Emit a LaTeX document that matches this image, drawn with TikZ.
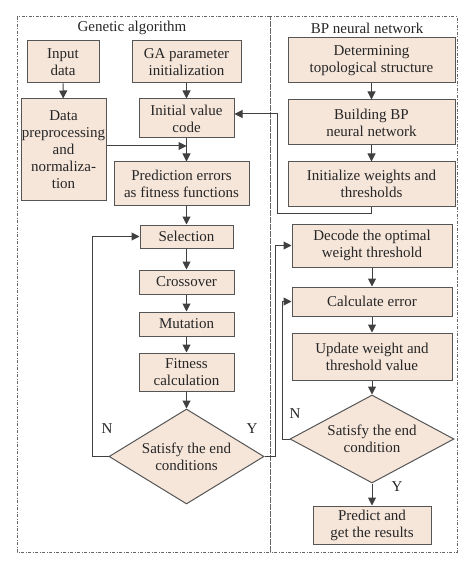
\documentclass[tikz,border=0pt]{standalone}
\usepackage{fontspec}
\setmainfont{Liberation Serif}
\usetikzlibrary{shapes.geometric,arrows.meta}
\definecolor{boxfill}{HTML}{F6E6DA}
\definecolor{boxline}{HTML}{555555}
\definecolor{framec}{HTML}{666666}
\begin{document}
\begin{tikzpicture}[x=1pt,y=-1pt,
  every node/.style={font=\fontsize{15}{17}\selectfont, text=black!85},
  box/.style={draw=boxline, fill=boxfill, line width=1pt, rectangle, align=center, inner sep=0pt},
  dia/.style={draw=boxline, fill=boxfill, line width=1pt, diamond, align=center, inner sep=0pt, aspect=1.6},
  arr/.style={draw=black!75, line width=1pt, -{Triangle[length=8pt,width=8pt]}},
  frame/.style={draw=framec, line width=1pt, dash pattern=on 3pt off 1.5pt on 1pt off 1.5pt},
  lbl/.style={font=\fontsize{15}{17}\selectfont}
]
\useasboundingbox (0,0) rectangle (474,569);
% frames
\draw[frame] (17,17) rectangle (270,552);
\draw[frame] (270,17) rectangle (457,552);
\node[lbl] (t1) at (132,28) {Genetic algorithm};
\node[lbl] (t2) at (367,28) {BP neural network};

% left column
\node[box, minimum width=72, minimum height=42] (inp) at (63,62) {Input\\data};
\node[box, minimum width=109, minimum height=42] (gap) at (186.5,62) {GA parameter\\initialization};
\node[box, minimum width=85, minimum height=101] (pre) at (63.5,149.5) {Data\\preprocessing\\and\\normaliza-\\tion};
\node[box, minimum width=95, minimum height=39] (ivc) at (186.5,118.5) {Initial value\\code};
\node[box, minimum width=135, minimum height=43] (pred) at (181.5,183.5) {Prediction errors\\as fitness functions};
\node[box, minimum width=93, minimum height=23] (sel) at (186.5,236.5) {Selection};
\node[box, minimum width=95, minimum height=24] (cro) at (186.5,282) {Crossover};
\node[box, minimum width=95, minimum height=24] (mut) at (186.5,324) {Mutation};
\node[box, minimum width=95, minimum height=38] (fit) at (186.5,372) {Fitness\\calculation};
\node[dia, minimum width=155, minimum height=95] (d1) at (186.5,456.5) {Satisfy the end\\conditions};

% right column
\node[box, minimum width=167, minimum height=45] (top) at (371.5,60.5) {Determining\\topological structure};
\node[box, minimum width=167, minimum height=45] (bld) at (371.5,122.5) {Building BP\\neural network};
\node[box, minimum width=167, minimum height=44] (iwt) at (371.5,184) {Initialize weights and\\thresholds};
\node[box, minimum width=160, minimum height=43] (dec) at (372,245.5) {Decode the optimal\\weight threshold};
\node[box, minimum width=160, minimum height=29] (cal) at (372,301.5) {Calculate error};
\node[box, minimum width=160, minimum height=47] (upd) at (372,356.5) {Update weight and\\threshold value};
\node[dia, minimum width=164, minimum height=88] (d2) at (372,439) {Satisfy the end\\condition};
\node[box, minimum width=118, minimum height=38] (res) at (372,525) {Predict and\\get the results};

% labels
\node[lbl] (n1) at (107,429) {N};
\node[lbl] (y1) at (252,429) {Y};
\node[lbl] (n2) at (295,414) {N};
\node[lbl] (y2) at (397,487) {Y};

% coordinates
\coordinate (j1) at (186.5,146);
\coordinate (c1) at (277,213);
\coordinate (c2) at (277,114);
\coordinate (c3) at (275,456.5);
\coordinate (c4) at (92,456.5);
\coordinate (c5) at (282,439);

% connectors left
\draw[arr] (inp) -- (pre);
\draw[arr] (gap) -- (ivc);
\draw[arr] (ivc.south) -- (ivc.south |- pred.north);
\draw[arr] (pre.east |- j1) -- (j1);
\draw[arr] (sel.north |- pred.south) -- (sel.north);
\draw[arr] (sel) -- (cro);
\draw[arr] (cro) -- (mut);
\draw[arr] (mut) -- (fit);
\draw[arr] (fit) -- (d1.north);
\draw[arr] (d1.west) -- (c4) |- (sel.west);
\draw[arr] (d1.east) -- (c3) |- (dec.west);

% connectors right
\draw[arr] (top) -- (bld);
\draw[arr] (bld) -- (iwt);
\draw[arr] (iwt.south) |- (c1) -- (c2) -- (ivc.east |- c2);
\draw[arr] (dec) -- (cal);
\draw[arr] (cal) -- (upd);
\draw[arr] (upd) -- (d2.north);
\draw[arr] (d2.west) -- (c5) |- (cal.west);
\draw[arr] (d2.south) -- (res);
\end{tikzpicture}
\end{document}
